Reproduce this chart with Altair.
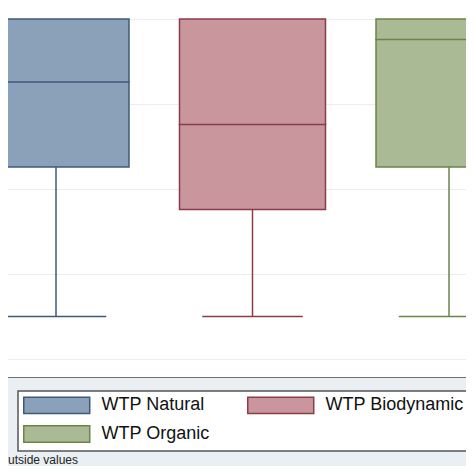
import altair as alt
import pandas as pd

categories = ["WTP Natural", "WTP Biodynamic", "WTP Organic"]
q1 = [11.3, 8.8, 11.3]
median = [16.3, 13.8, 18.8]
q3 = [20.0, 20.0, 20.0]
lower = [2.5, 2.5, 2.5]
fill_colors = ["#8BA1B9", "#C8969C", "#A9BA94"]
stroke_colors = ["#3D5A7E", "#8C3C48", "#6B8448"]
grid_values = [0, 5, 10, 15, 20]
note = ["utside values"]

df = pd.DataFrame({"cat": categories, "q1": q1, "median": median, "q3": q3, "lo": lower})

FONT = "Liberation Sans"

xscale = alt.Scale(domain=categories, range=[-50.25, 539.25], paddingInner=0, paddingOuter=0)
x = alt.X("cat:N", sort=categories, scale=xscale,
          axis=alt.Axis(labels=False, ticks=False, title=None, domain=True,
                        domainColor="#707070", domainWidth=1.2, grid=False))
yscale = alt.Scale(domain=[-1.059, 20.647], nice=False, zero=False)
yaxis = alt.Axis(values=grid_values, grid=True, gridColor="#ececec", gridWidth=1,
                 labels=False, ticks=False, domain=False, title=None)

stroke_scale = alt.Scale(domain=categories, range=stroke_colors)
fill_scale = alt.Scale(domain=categories, range=fill_colors)

leg = dict(orient="none", legendX=10, legendY=383, columns=2, direction="horizontal",
           title=None,
           symbolType="M-1,-1H7V1H-1Z", symbolSize=272, symbolStrokeWidth=1.5,
           symbolOpacity=1, labelFontSize=18, labelFont=FONT, labelColor="#111111",
           labelOffset=60.5, rowPadding=5, columnPadding=34, padding=5,
           fillColor="white", strokeColor="#555555", labelLimit=400)


def stroke_enc():
    return alt.Stroke("cat:N", scale=stroke_scale, legend=alt.Legend(**leg))


base = alt.Chart(df)

whisker = base.mark_rule(strokeWidth=1.5).encode(
    x=x,
    y=alt.Y("lo:Q", scale=yscale, axis=yaxis),
    y2="q1:Q",
    stroke=stroke_enc(),
)

cap = base.mark_tick(size=99, thickness=0.001, filled=False, strokeWidth=1.5, opacity=1).encode(
    x=x,
    y=alt.Y("lo:Q", scale=yscale, axis=yaxis),
    stroke=stroke_enc(),
)

box = base.mark_bar(size=146, strokeWidth=1.5, opacity=1).encode(
    x=x,
    y=alt.Y("q1:Q", scale=yscale, axis=yaxis),
    y2="q3:Q",
    fill=alt.Fill("cat:N", scale=fill_scale, legend=alt.Legend(**leg)),
    stroke=stroke_enc(),
)

med = base.mark_tick(size=146, thickness=0.001, filled=False, strokeWidth=1.5, opacity=1).encode(
    x=x,
    y=alt.Y("median:Q", scale=yscale, axis=yaxis),
    stroke=stroke_enc(),
)

note_layer = alt.Chart(pd.DataFrame({"t": note})).mark_text(
    align="left", baseline="middle", font=FONT, fontSize=12, color="#222222"
).encode(x=alt.value(0), y=alt.value(452), text="t:N")

chart = alt.layer(whisker, cap, box, med, note_layer).properties(
    width=458, height=369, autosize="none",
    padding={"left": 0, "top": 0, "right": 0, "bottom": 89},
    background="#E9EFF2",
).configure_view(fill="white", stroke=None).configure_legend(strokeWidth=1.5)

chart.save("out.html", embed_options={"renderer": "svg", "actions": False})
